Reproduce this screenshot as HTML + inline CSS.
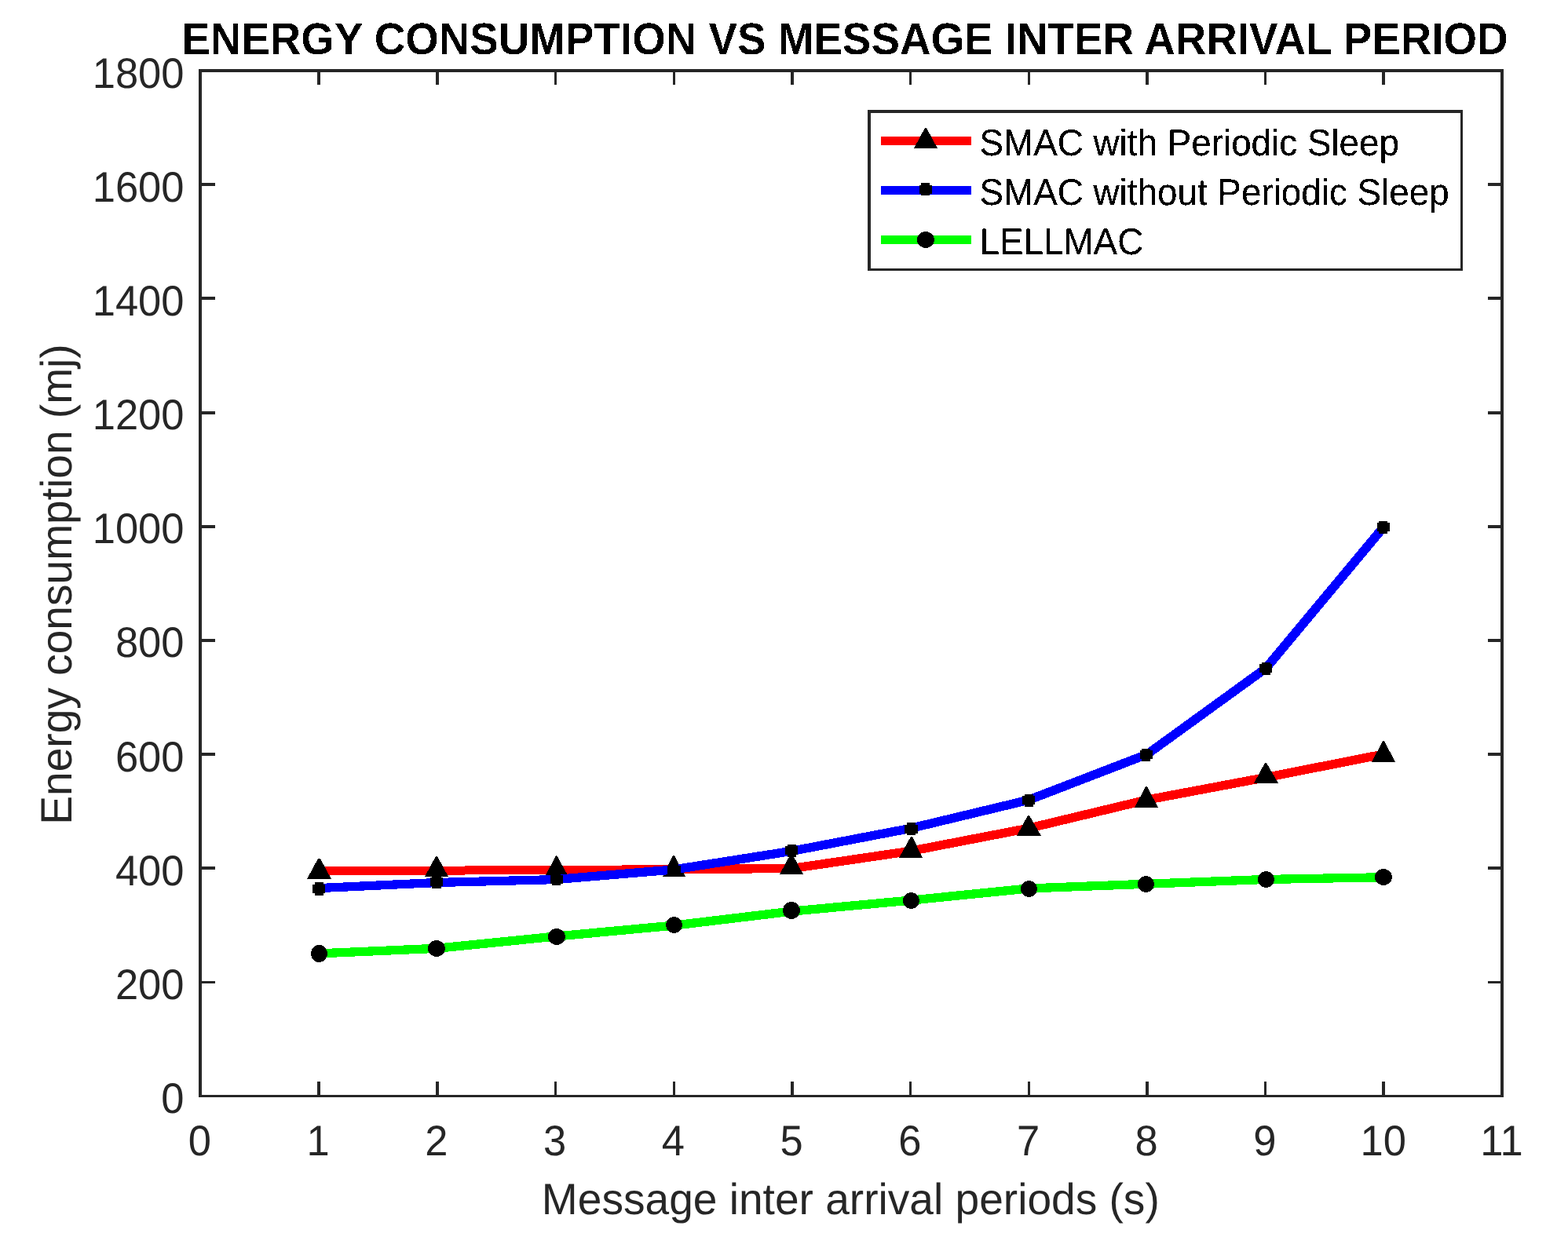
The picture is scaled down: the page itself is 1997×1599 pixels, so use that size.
<!DOCTYPE html>
<html lang="en"><head><meta charset="utf-8">
<title>Energy consumption vs message inter arrival period</title>
<style>
html,body{margin:0;padding:0;background:#fff;}
body{width:1997px;height:1599px;}
svg{display:block;}
text{font-family:"Liberation Sans",Arial,Helvetica,sans-serif;text-rendering:geometricPrecision;}
.tick{font-size:52.5px;fill:#262626;}
.lab{font-size:55.1px;fill:#262626;}
.ttl{font-size:54.75px;font-weight:bold;fill:#000;}
.leg{font-size:45.8px;fill:#000;}
</style></head><body>
<svg xmlns="http://www.w3.org/2000/svg" width="1997" height="1599" viewBox="0 0 1997 1599">
<defs><filter id="alias" filterUnits="userSpaceOnUse" x="0" y="0" width="1997" height="1599" color-interpolation-filters="sRGB"><feComponentTransfer><feFuncA type="discrete" tableValues="0 0 1 1 1"/></feComponentTransfer></filter><filter id="alias2" filterUnits="userSpaceOnUse" x="0" y="0" width="1997" height="1599" color-interpolation-filters="sRGB"><feComponentTransfer><feFuncA type="discrete" tableValues="0 0 0 1 1"/></feComponentTransfer></filter></defs>
<rect x="0" y="0" width="1997" height="1599" fill="#ffffff"/>
<g fill="#262626" shape-rendering="crispEdges">
<rect x="253" y="88" width="1662" height="4"/>
<rect x="253" y="1395" width="1662" height="3"/>
<rect x="253" y="88" width="4" height="1310"/>
<rect x="1911" y="88" width="4" height="1310"/>
<rect x="404" y="1378" width="4" height="18"/>
<rect x="404" y="91" width="4" height="17"/>
<rect x="555" y="1378" width="4" height="18"/>
<rect x="555" y="91" width="4" height="17"/>
<rect x="706" y="1378" width="3" height="18"/>
<rect x="706" y="91" width="3" height="17"/>
<rect x="857" y="1378" width="3" height="18"/>
<rect x="857" y="91" width="3" height="17"/>
<rect x="1007" y="1378" width="4" height="18"/>
<rect x="1007" y="91" width="4" height="17"/>
<rect x="1158" y="1378" width="3" height="18"/>
<rect x="1158" y="91" width="3" height="17"/>
<rect x="1309" y="1378" width="3" height="18"/>
<rect x="1309" y="91" width="3" height="17"/>
<rect x="1459" y="1378" width="4" height="18"/>
<rect x="1459" y="91" width="4" height="17"/>
<rect x="1610" y="1378" width="3" height="18"/>
<rect x="1610" y="91" width="3" height="17"/>
<rect x="1760" y="1378" width="4" height="18"/>
<rect x="1760" y="91" width="4" height="17"/>
<rect x="256" y="1250" width="18" height="3"/>
<rect x="1895" y="1250" width="17" height="3"/>
<rect x="256" y="1104" width="18" height="4"/>
<rect x="1895" y="1104" width="17" height="4"/>
<rect x="256" y="959" width="18" height="4"/>
<rect x="1895" y="959" width="17" height="4"/>
<rect x="256" y="814" width="18" height="4"/>
<rect x="1895" y="814" width="17" height="4"/>
<rect x="256" y="669" width="18" height="4"/>
<rect x="1895" y="669" width="17" height="4"/>
<rect x="256" y="524" width="18" height="4"/>
<rect x="1895" y="524" width="17" height="4"/>
<rect x="256" y="378" width="18" height="4"/>
<rect x="1895" y="378" width="17" height="4"/>
<rect x="256" y="233" width="18" height="4"/>
<rect x="1895" y="233" width="17" height="4"/>
</g>
<g class="tick" text-anchor="middle">
<text transform="translate(254.4,1472.3) scale(1,1.035)">0</text>
<text transform="translate(405.1,1472.3) scale(1,1.035)">1</text>
<text transform="translate(555.9,1472.3) scale(1,1.035)">2</text>
<text transform="translate(706.6,1472.3) scale(1,1.035)">3</text>
<text transform="translate(857.3,1472.3) scale(1,1.035)">4</text>
<text transform="translate(1008.0,1472.3) scale(1,1.035)">5</text>
<text transform="translate(1158.8,1472.3) scale(1,1.035)">6</text>
<text transform="translate(1309.5,1472.3) scale(1,1.035)">7</text>
<text transform="translate(1460.2,1472.3) scale(1,1.035)">8</text>
<text transform="translate(1610.9,1472.3) scale(1,1.035)">9</text>
<text transform="translate(1761.7,1472.3) scale(1,1.035)">10</text>
<text transform="translate(1912.4,1472.3) scale(1,1.035)">11</text>
</g>
<g class="tick" text-anchor="end">
<text transform="translate(234.5,1418.0) scale(1,1.035)">0</text>
<text transform="translate(234.5,1272.8) scale(1,1.035)">200</text>
<text transform="translate(234.5,1127.7) scale(1,1.035)">400</text>
<text transform="translate(234.5,982.5) scale(1,1.035)">600</text>
<text transform="translate(234.5,837.3) scale(1,1.035)">800</text>
<text transform="translate(234.5,692.2) scale(1,1.035)">1000</text>
<text transform="translate(234.5,547.0) scale(1,1.035)">1200</text>
<text transform="translate(234.5,401.8) scale(1,1.035)">1400</text>
<text transform="translate(234.5,256.7) scale(1,1.035)">1600</text>
<text transform="translate(234.5,111.5) scale(1,1.035)">1800</text>
</g>
<g filter="url(#alias2)"><text class="ttl" transform="translate(1075.9,69) scale(1,1.04)" text-anchor="middle">ENERGY CONSUMPTION VS MESSAGE INTER ARRIVAL PERIOD</text></g>
<text class="lab" transform="translate(1083.3,1546.6) scale(1,1.015)" text-anchor="middle">Message inter arrival periods (s)</text>
<text class="lab" transform="translate(91,744.5) rotate(-90) scale(1,1.015)" text-anchor="middle">Energy consumption (mj)</text>
<g shape-rendering="crispEdges">
<g fill="none" stroke="#ff0000" stroke-linecap="butt">
<polyline stroke-width="11" stroke-linejoin="round" points="406.00,1110.00 556.60,1109.20 707.40,1108.40 858.00,1107.70 1008.70,1106.50 1159.40,1084.40 1310.00,1055.30 1460.70,1019.10 1611.40,990.70 1762.00,961.06"/>
<line x1="858.00" y1="1107.70" x2="1008.70" y2="1106.50" stroke-width="11.21"/>
<line x1="1008.70" y1="1106.50" x2="1159.40" y2="1084.40" stroke-width="11.36"/>
<line x1="1159.40" y1="1084.40" x2="1310.00" y2="1055.30" stroke-width="11.39"/>
<line x1="1310.00" y1="1055.30" x2="1460.70" y2="1019.10" stroke-width="11.41"/>
<line x1="1460.70" y1="1019.10" x2="1611.40" y2="990.70" stroke-width="11.38"/>
<line x1="1611.40" y1="990.70" x2="1762.00" y2="961.06" stroke-width="11.39"/>
</g>
<g fill="#000">
<polygon points="405,1094 408,1094 422,1120 391,1120"/>
<polygon points="555,1091 557,1091 571,1117 541,1117"/>
<polygon points="708,1090 709.2,1090 724,1117 694,1117"/>
<polygon points="857,1090 859,1090 873,1117 844,1117"/>
<polygon points="1007,1088 1009,1088 1023,1114 993,1114"/>
<polygon points="1160,1066 1162,1066 1175,1093 1145,1093"/>
<polygon points="1309,1039 1311,1039 1326,1065 1295,1065"/>
<polygon points="1459,1002 1461,1002 1475,1029 1445,1029"/>
<polygon points="1611,972 1613,972 1628,998 1597,998"/>
<polygon points="1761,944 1763,944 1777,971 1747,971"/>
</g>
<g fill="none" stroke="#0000ff" stroke-linecap="butt">
<polyline stroke-width="11" stroke-linejoin="round" points="406.00,1131.60 556.60,1124.50 707.40,1120.60 858.00,1108.00 1008.70,1084.30 1159.40,1055.45 1310.00,1019.30 1460.70,961.20 1611.40,852.00 1762.00,671.30"/>
<line x1="406.00" y1="1131.60" x2="556.60" y2="1124.50" stroke-width="11.26"/>
<line x1="556.60" y1="1124.50" x2="707.40" y2="1120.60" stroke-width="11.24"/>
<line x1="707.40" y1="1120.60" x2="858.00" y2="1108.00" stroke-width="11.30"/>
<line x1="858.00" y1="1108.00" x2="1008.70" y2="1084.30" stroke-width="11.36"/>
<line x1="1008.70" y1="1084.30" x2="1159.40" y2="1055.45" stroke-width="11.38"/>
<line x1="1159.40" y1="1055.45" x2="1310.00" y2="1019.30" stroke-width="11.41"/>
<line x1="1310.00" y1="1019.30" x2="1460.70" y2="961.20" stroke-width="11.46"/>
<line x1="1460.70" y1="961.20" x2="1611.40" y2="852.00" stroke-width="11.49"/>
<line x1="1611.63" y1="852.19" x2="1762.23" y2="671.49" stroke-width="11.50"/>
</g>
<g fill="#000">
<path d="M401 1124H412V1127H414V1138H412V1141H401V1138H398V1127H401Z"/>
<path d="M550 1115H562V1118H564V1129H562V1132H550V1129H548V1118H550Z"/>
<path d="M703 1112H714V1115H717V1126H714V1128H703V1126H701V1115H703Z"/>
<path d="M853 1100H864V1103H867V1114H864V1117H853V1114H850V1103H853Z"/>
<path d="M1003 1076H1014V1078H1016V1089H1014V1092H1003V1089H1000V1078H1003Z"/>
<path d="M1155 1048H1166V1051H1169V1062H1166V1064H1155V1062H1152V1051H1155Z"/>
<path d="M1305 1012H1316V1014H1318V1025H1316V1028H1305V1025H1302V1014H1305Z"/>
<path d="M1454 954H1465V956H1468V967H1465V970H1454V967H1452V956H1454Z"/>
<path d="M1607 844H1618V846H1620V857H1618V860H1607V857H1604V846H1607Z"/>
<path d="M1756 664H1767V666H1770V677H1767V680H1756V677H1754V666H1756Z"/>
</g>
<g fill="none" stroke="#00ff00" stroke-linecap="butt">
<polyline stroke-width="11" stroke-linejoin="round" points="406.00,1214.90 556.60,1208.30 707.40,1193.10 858.00,1179.14 1008.70,1161.06 1159.40,1147.14 1310.00,1131.96 1460.70,1126.24 1611.40,1120.48 1762.00,1117.72"/>
<line x1="406.00" y1="1214.90" x2="556.60" y2="1208.30" stroke-width="11.26"/>
<line x1="556.60" y1="1208.30" x2="707.40" y2="1193.10" stroke-width="11.32"/>
<line x1="707.40" y1="1193.10" x2="858.00" y2="1179.14" stroke-width="11.31"/>
<line x1="858.00" y1="1179.14" x2="1008.70" y2="1161.06" stroke-width="11.34"/>
<line x1="1008.70" y1="1161.06" x2="1159.40" y2="1147.14" stroke-width="11.31"/>
<line x1="1159.40" y1="1147.14" x2="1310.00" y2="1131.96" stroke-width="11.32"/>
<line x1="1310.00" y1="1131.96" x2="1460.70" y2="1126.24" stroke-width="11.25"/>
<line x1="1460.70" y1="1126.24" x2="1611.40" y2="1120.48" stroke-width="11.25"/>
<line x1="1611.40" y1="1120.48" x2="1762.00" y2="1117.72" stroke-width="11.23"/>
</g>
<g fill="#000">
<ellipse cx="406.5" cy="1215" rx="10.5" ry="11"/>
<ellipse cx="556" cy="1208.5" rx="11" ry="10.5"/>
<ellipse cx="709" cy="1193.5" rx="11" ry="10.5"/>
<ellipse cx="858.5" cy="1178.5" rx="10.5" ry="10.5"/>
<ellipse cx="1008" cy="1160" rx="11" ry="11"/>
<ellipse cx="1160.5" cy="1147.5" rx="10.5" ry="10.5"/>
<ellipse cx="1310.5" cy="1132.5" rx="10.5" ry="10.5"/>
<ellipse cx="1459.5" cy="1126.5" rx="10.5" ry="10.5"/>
<ellipse cx="1612.5" cy="1120.5" rx="10.5" ry="10.5"/>
<ellipse cx="1762" cy="1117.5" rx="11" ry="10.5"/>
</g>
</g>
<g shape-rendering="crispEdges">
<rect x="1105" y="140" width="758" height="205" fill="#fff"/>
<g fill="#262626">
<rect x="1105" y="140" width="758" height="4"/>
<rect x="1105" y="342" width="758" height="3"/>
<rect x="1105" y="140" width="4" height="205"/>
<rect x="1860" y="140" width="3" height="205"/>
</g>
<rect x="1122" y="174" width="115" height="11" fill="#ff0000"/>
<rect x="1122" y="237" width="115" height="11" fill="#0000ff"/>
<rect x="1122" y="300" width="115" height="11" fill="#00ff00"/>
<g fill="#000">
<polygon points="1178,163 1180,163 1194,189 1164,189"/>
<path d="M1173 233H1184V236H1187V247H1184V249H1173V247H1171V236H1173Z"/>
<ellipse cx="1179" cy="305.5" rx="11" ry="10.5"/>
</g></g>
<g class="leg" filter="url(#alias)">
<text transform="translate(1247.5,198.2) scale(1,1.035)">SMAC with Periodic Sleep</text>
<text transform="translate(1247.5,261.2) scale(1,1.035)">SMAC without Periodic Sleep</text>
<text transform="translate(1247.5,324.2) scale(1,1.035)">LELLMAC</text>
</g>
</svg>
</body></html>
